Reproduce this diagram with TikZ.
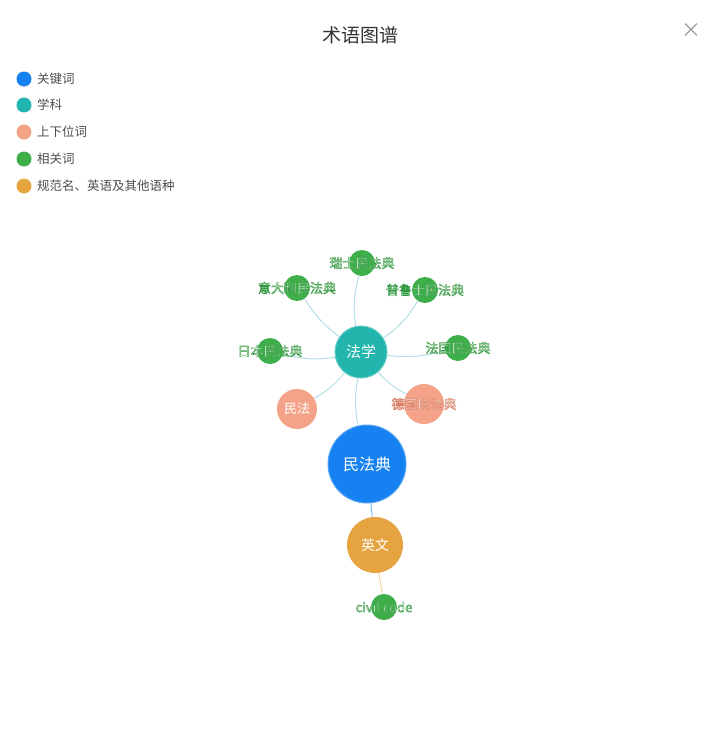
\documentclass[tikz,border=0pt]{standalone}
\usepackage{fontspec}
\setmainfont{Noto Sans CJK SC}
\newcommand{\outl}[2]{\special{pdf:literal direct 2 Tr 0.45 w #1 RG 1 1 1 rg}#2\special{pdf:literal direct 0 Tr 0 w}}
\begin{document}
\begin{tikzpicture}[x=1pt,y=-1pt,
  every node/.style={inner sep=0pt},
  kw/.style={circle,fill=cKw,draw=cKw!70!white,line width=1pt,text=white},
  subj/.style={circle,fill=cSub,draw=cSub!70!white,line width=1pt,text=white},
  hyp/.style={circle,fill=cHyp,text=white},
  rel/.style={circle,fill=cRel},
  eng/.style={circle,fill=cEng,text=white},
  edge/.style={draw=cEdge,line width=1pt},
  lg/.style={circle,minimum size=15pt},
  lbl/.style={text=white,font=\fontsize{13}{15}\selectfont},
  lgt/.style={anchor=west,font=\fontsize{12.5}{14}\selectfont,text=black!70}]
\definecolor{cKw}{HTML}{1681F0}
\definecolor{cSub}{HTML}{22B5AD}
\definecolor{cHyp}{HTML}{F4A388}
\definecolor{cRel}{HTML}{3DAE4A}
\definecolor{cEng}{HTML}{E6A440}
\definecolor{cEdge}{HTML}{B5DEE8}
\useasboundingbox (0,0) rectangle (720,731);
\fill[white] (0,0) rectangle (720,731);
\node[font=\fontsize{19}{22}\selectfont,text=black!80] (title) at (360,35) {术语图谱};
\node[font=\fontsize{20}{22}\selectfont,text=black!40] (close) at (691,31) {×};
% legend
\foreach \c/\t/\y [count=\i] in {cKw/关键词/79,cSub/学科/105,cHyp/上下位词/132,cRel/相关词/159,cEng/{规范名、英语及其他语种}/186}{
  \node[lg,fill=\c] (lg\i) at (24,\y) {};
  \node[lgt] (lt\i) at (37,\y) {\t};
}
% nodes
\node[subj,minimum size=52pt,font=\fontsize{15}{17}\selectfont] (fx) at (361,352) {法学};
\node[kw,minimum size=78pt,font=\fontsize{16}{18}\selectfont] (mfd) at (367,464) {民法典};
\node[eng,minimum size=56pt,font=\fontsize{14}{16}\selectfont] (yw) at (375,545) {英文};
\node[rel,minimum size=26pt] (cc) at (384,607) {};
\node[rel,minimum size=26pt] (rs) at (362,263) {};
\node[rel,minimum size=26pt] (ydl) at (297,288) {};
\node[rel,minimum size=26pt] (pls) at (425,290) {};
\node[rel,minimum size=26pt] (rb) at (270,351) {};
\node[rel,minimum size=26pt] (fg) at (458,348) {};
\node[hyp,minimum size=40pt,font=\fontsize{13}{15}\selectfont] (mf) at (297,409) {民法};
\node[hyp,minimum size=40pt] (dg) at (424,404) {};
% edges
\path[edge] (fx) to[bend left=12] (rs);
\path[edge] (fx) to[bend left=10] (ydl);
\path[edge] (fx) to[bend right=12] (pls);
\path[edge] (fx) to[bend left=12] (rb);
\path[edge] (fx) to[bend right=10] (fg);
\path[edge] (fx) to[bend left=10] (mf);
\path[edge] (fx) to[bend right=10] (dg);
\path[edge] (fx) to[bend right=10] (mfd);
\draw[cEdge!60!cKw,line width=0.9pt] (mfd) -- (yw);
\draw[cEng!50!white,line width=0.9pt] (yw) -- (cc);
% labels
\foreach \n/\t in {rs/瑞士民法典,ydl/意大利民法典,pls/普鲁士民法典,rb/日本民法典,fg/法国民法典,cc/civil code}{
  \node[lbl] at (\n) {\outl{0.2 0.6 0.25}{\t}};
}
\node[lbl] (dgl) at (dg) {\outl{0.85 0.5 0.4}{德国民法典}};
\end{tikzpicture}
\end{document}
